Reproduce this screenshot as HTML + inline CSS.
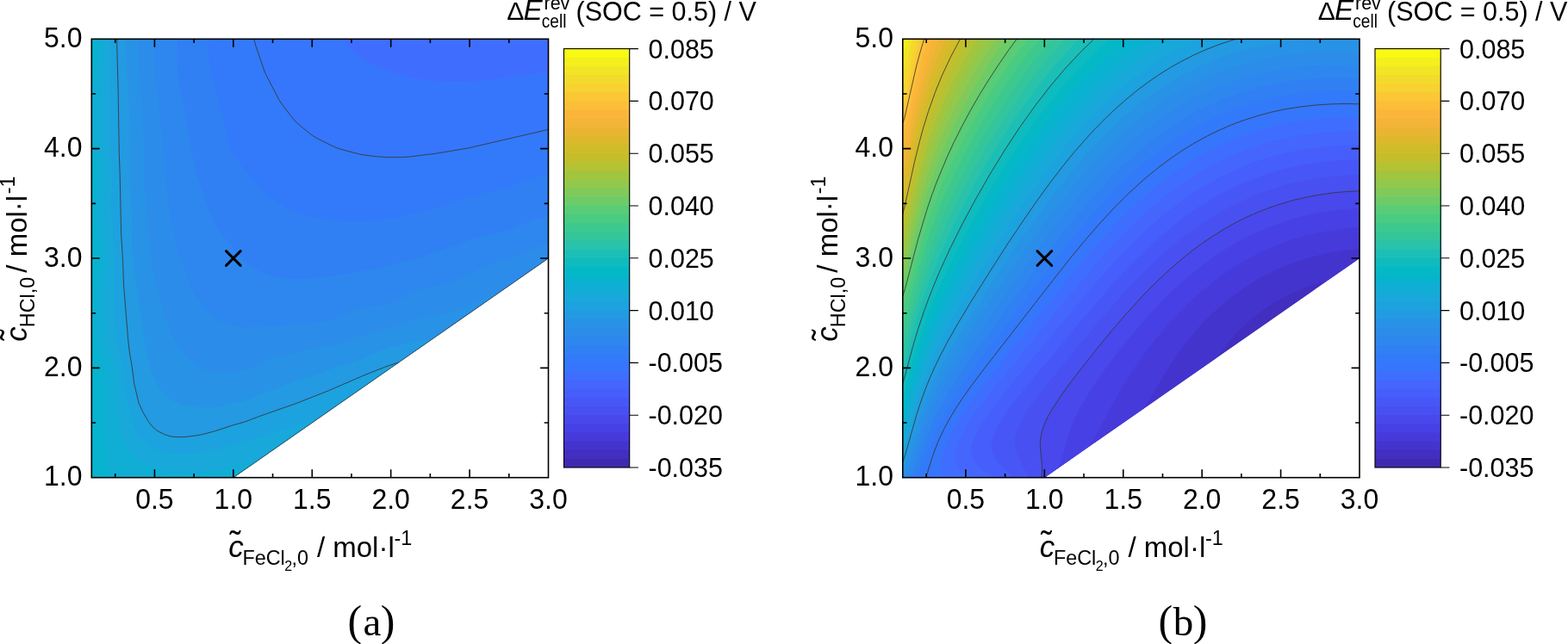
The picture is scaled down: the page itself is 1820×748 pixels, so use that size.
<!DOCTYPE html><html><head><meta charset="utf-8"><style>html,body{margin:0;padding:0;background:#fff;overflow:hidden}svg{display:block} text{font-family:'Liberation Sans', Arial, sans-serif;fill:#000}.t{font-size:32px}.tk{font-size:33.5px}.t2{font-size:33px}.c{font-size:30.5px}.s{font-size:23.4px}.ti{font-size:30.5px}.ts{font-size:21.5px}.cap{font-family:'Liberation Serif', 'Times New Roman', serif;font-size:47px}</style></head><body>
<svg width="1820" height="748" viewBox="0 0 1820 748">
<clipPath id="clipa"><path d="M106.3 45.3H636.5V300L270.8 554.7H106.3Z"/></clipPath>
<g clip-path="url(#clipa)">
<rect x="105.3" y="44.3" width="532.2" height="511.4" fill="#3f6eff"/>
<path d="M106.3 43.3L392.8 43.3L401.1 52.2L411 60.9L420.9 67.9L432.7 74.7L444.6 80.2L456.9 84.8L471.1 88.7L486.2 91.8L500 93.6L513.9 94.7L531.7 95L547.5 94.5L575.2 92.1L622.7 85.3L638.5 83.6L638.5 556.7L104.3 556.7L104.3 43.3L106.3 43.3Z" fill="#3676fd" fill-rule="evenodd"/>
<path d="M106.3 43.3L294.2 43.3L296.3 51.2L305.6 78.8L309.6 88.7L325.4 118.3L329.9 124.6L341.7 139.7L346.1 144L359.5 155.1L363.5 158L369.4 161.4L391.2 171.9L399.1 174.4L418.9 179.6L442.6 182.4L466.4 182.6L476.3 182L504 178.5L545.5 171.6L638.5 150L638.5 556.7L104.3 556.7L104.3 43.3L106.3 43.3Z" fill="#327af9" fill-rule="evenodd"/>
<path d="M106.3 43.3L241.5 43.3L241.4 53.2L241.8 63L242.9 72.9L244.8 83.8L248.4 98.6L257.5 130.2L264.9 163.8L266.6 169.7L268.9 175.6L271.3 179.5L279.9 191.4L292.1 207.2L302.2 218.6L310.7 226.9L320 234L329.9 240L341.7 245.6L353.6 249.8L365.5 252.8L377.3 254.8L389.2 256.2L403.1 257L416.9 257.1L430.8 256.4L444.6 255.1L460.4 252.8L478.2 249.2L498 244L555.4 226L579.1 220.3L593 216.4L626.6 205.1L638.5 201.5L638.5 556.7L104.3 556.7L104.3 43.3L106.3 43.3Z" fill="#3080f4" fill-rule="evenodd"/>
<path d="M106.3 43.3L206.7 43.3L205.5 57.1L205.3 70.9L206.2 84.8L208.1 98.6L214.7 130.2L220.3 165.7L225.2 189.4L228.9 203.4L240.8 238.7L249.2 260.5L253.8 268.4L260.6 277.2L276.4 295.8L284.6 303.9L290.3 308.5L296.2 312.4L302.2 315.6L308.1 318.1L318 321.2L327.9 323.1L339.7 324L351.6 323.9L373.4 322.3L385.2 320.9L438.7 311.9L452.5 308.5L492.1 297.2L507.9 292L537.6 281.2L551.4 276.7L561.3 274L589 267.6L614.8 257.5L638.5 249.3L638.5 556.7L104.3 556.7L104.3 43.3L106.3 43.3Z" fill="#2e87ee" fill-rule="evenodd"/>
<path d="M106.3 43.3L181.2 43.3L179.7 57.1L179.3 67L179.6 78.8L180.5 90.7L188.1 155.9L190.1 177.6L191.9 205.2L193.4 221L198.6 254.6L203.8 280.3L207.8 296.1L213.1 312.1L221 331.1L228.3 345.4L234.9 355.2L242.3 363.2L250.7 369.9L258.6 374.3L266.5 377.3L274.1 379L282.4 379.9L292.3 380L329.9 378.1L353.6 375.3L377.3 373.4L383.3 372.5L391.2 369.8L411 360.6L418.9 357.9L426.8 356.4L444.6 354.6L452.5 352.9L458.5 350.3L478.2 340L490.1 335.2L496.3 333.6L515.8 330.6L523.7 328.5L533.6 324.3L555.4 313.1L565.3 308.6L602.9 295.8L630.6 285.3L638.5 282.9L638.5 556.7L104.3 556.7L104.3 43.3L106.3 43.3Z" fill="#2c8cea" fill-rule="evenodd"/>
<path d="M106.3 43.3L161.5 43.3L160.5 55.1L160.6 69L166.4 151.9L167.4 175.6L167.4 197.3L168 215.1L169.1 228.9L172.2 256.6L173.8 280.3L176.6 307.9L178.5 317.8L186 349.4L189.4 361.3L193.3 372.9L199.3 387.1L205.1 398.7L211.1 408.3L217.1 415.1L223.2 420.5L230.9 425.5L236.9 428.4L244.8 431L252.7 432.5L260.6 433L268.5 432.7L278.4 431.2L284.3 429.6L292.3 426.9L315.9 416.5L321.9 414.3L347.7 408.3L369.4 402.8L387.2 400.4L399.1 398L412.9 393.7L428.8 387.1L460.4 379L466.2 377L474.3 373.4L480.2 371.5L492.1 368.7L515.8 364.9L523.7 362.8L539.6 357L569.3 343.1L589 335L616.7 325.5L638.5 319.3L638.5 556.7L104.3 556.7L104.3 43.3L106.3 43.3Z" fill="#2892e6" fill-rule="evenodd"/>
<path d="M106.3 43.3L146.8 43.3L146.3 49.2L146.3 57.1L149.4 114.4L150.5 146L150.8 171.7L150.6 203.2L154 256.6L153.8 288.2L155 307.9L167.6 395.6L171 412.6L175.5 430.3L178.4 438.2L184.3 450.1L187.4 454.3L191.4 458.6L195.3 462.1L201.2 465.8L209.2 468.9L217.1 470.9L228.9 472.4L240.8 473L250.7 472.5L260.6 470.7L278.4 466.5L286.9 463.9L319.3 452L343.7 442L369.4 433.9L393.2 425L418.9 417L440.6 407.8L452.5 403.6L464.4 400.5L484.2 396.3L519.8 390.7L535.6 387.4L553.4 382.4L589 370.7L604.9 365.9L622.7 361.3L638.5 358L638.5 556.7L104.3 556.7L104.3 43.3L106.3 43.3Z" fill="#239ae2" fill-rule="evenodd"/>
<path d="M106.3 43.3L135.9 43.3L135.7 51.2L140.6 270.4L142.6 303.9L143.6 331.6L148.7 394.8L150.5 410.6L153.3 426.4L155.7 445.6L161 467.8L163.7 474.2L169.6 485.4L173.6 491.5L178.9 497.5L183.4 500.9L189.4 504L195.3 506.2L201.2 507.3L209.2 507.7L217.1 507.3L234.9 504.6L250.7 500.4L268.5 494.4L284.3 489.9L300.2 483.9L343.7 468.6L381.3 453.8L421.9 436.2L446.6 426.4L460.4 421.6L466.4 420.4L476.3 419.1L519.8 415.5L541.6 412.9L561.3 409.8L610.8 400.5L638.5 396.7L638.5 556.7L104.3 556.7L104.3 43.3L106.3 43.3Z" fill="#1ca2de" fill-rule="evenodd"/>
<path d="M106.3 43.3L127.6 43.3L127.7 69L126.7 118.3L126.8 144L128 171.7L130.8 199.3L129.4 232.9L129.8 260.5L130.9 274.3L134.3 300L134.2 305.9L132.7 325.7L132.4 339.5L132.7 359.2L133.8 377L135.2 390.8L137.2 402.7L144.1 430.3L144.8 450.1L145.9 458L147.5 465.9L152.1 483.6L155.9 495.5L158.6 501.4L160.8 505.4L165.7 511.3L171.6 516.1L177.5 519.7L187.4 523.8L195.3 525.9L203.2 526.9L211.1 527.1L225 526.7L236.9 525.4L246.8 523.3L288.3 512.2L351.6 491.7L369.4 485.1L383.3 479.5L420.9 461.6L436.7 454.7L450.5 449.6L464.4 445.7L474.3 444L488.1 442.7L541.6 440.7L608.8 436.2L638.5 435.2L638.5 556.7L104.3 556.7L104.3 43.3L106.3 43.3Z" fill="#18a8da" fill-rule="evenodd"/>
<path d="M106.3 43.3L120.3 43.3L120.4 61.1L117.3 104.5L116.5 136.1L116.9 151.9L117.8 165.7L119.1 177.6L122.2 199.3L122 205.2L119.8 232.9L119.6 244.7L120 256.6L121.4 272.4L125.2 294.1L125.9 300L125.6 305.9L122.5 329.6L121.4 345.4L121.2 365.2L122.4 382.9L124 394.8L126 404.7L133.4 430.3L133.8 434.3L133.6 450.1L134.2 459.9L140.7 501.4L143.7 511.3L147.3 519.2L151 525.1L155.7 530.4L163.7 536.4L169.6 539.7L179.5 543.4L191.4 546.5L203.2 548.2L217.1 548.9L228.9 548.7L240.8 547.7L260.6 544.3L288.3 538L316 530.5L345.7 521.6L367.4 514.4L385.2 507.7L428.8 488.7L442.6 483.2L456.5 478.6L470.3 475.2L480.2 473.6L490.1 472.6L513.9 471.6L575.2 472L616.7 473.4L638.5 475L638.5 556.7L104.3 556.7L104.3 43.3L106.3 43.3Z" fill="#10add4" fill-rule="evenodd"/>
<path d="M106.3 43.3L112.6 43.3L113.1 51.2L112.6 63L109.4 88.7L107.9 104.5L106.7 132.2L106.9 146L107.6 159.8L109 173.6L111.6 193.4L112.1 201.3L110.1 236.8L110.4 256.6L111.7 270.4L115.1 292.1L115.9 300L115.5 307.9L112.1 331.6L110.7 345.4L109.9 361.2L110.2 375L111.1 386.9L112.4 396.8L114.3 406.6L118.9 426.4L120.3 436.2L121.5 505.4L122.2 521.2L123.3 533L124.7 540.9L126.4 546.8L129.2 552.8L132.5 556.7L104.3 556.7L104.3 43.3L106.3 43.3ZM511.9 507.3L541.6 507.7L575.2 509.9L608.8 513.5L638.5 518.2L638.5 556.7L332.4 556.7L355.6 549.9L375.4 543.5L434.7 522L456.5 515.1L470.3 511.8L484.2 509.4L498 508L511.9 507.3Z" fill="#07b3ce" fill-rule="evenodd"/>
<path d="M104.3 51.2L104.3 55.4L104.3 51.2ZM104.4 292.1L104.8 302L104.3 310.1L104.4 292.1ZM104.5 428.4L105.2 436.2L105.5 446.1L104.3 471.4L104.5 428.4ZM496 550.7L517.8 549.8L541.6 550.5L567.3 552.9L592.6 556.7L457.5 556.7L476.3 553.1L496 550.7Z" fill="#05b8c6" fill-rule="evenodd"/>
<path d="M294.2 43.3L296.9 53.2L306.1 80.4L308.6 86.7L324.2 116.4L328.2 122.3L337.8 134.9L341.7 139.7L345.7 143.6L358 153.9L363.5 158L369.4 161.4L385.2 169.2L390.7 171.7L395.1 173.2L418.8 179.5L436.7 181.8L448.6 182.6L466.4 182.6L474.3 182.2L505.9 178.3L543.5 172L638.5 150M135.9 43.3L135.7 51.2L137.1 104.5L138.3 177.6L139.1 199.3L140.6 270.4L142.6 303.9L143.6 331.6L148.7 394.8L150.5 410.6L153.3 426.4L155.7 445.6L161 467.8L165.6 478.2L171.6 488.6L176.9 495.5L181.5 499.6L185.4 502L191.4 504.8L197.3 506.7L201.2 507.3L209.2 507.7L217.1 507.3L227 506L234.9 504.6L250.7 500.4L268.5 494.4L284.3 489.9L300.2 483.9L343.7 468.6L381.3 453.8L421.9 436.2L446.6 426.4L460.4 421.6L466.4 420.4L476.3 419.1L519.8 415.5L541.6 412.9L561.3 409.8L610.8 400.5L624.7 398.3L638.5 396.7" fill="none" stroke="#363636" stroke-width="0.85"/>
</g>
<path d="M270.8 554.7L636.5 300" stroke="#3c3c3c" stroke-width="0.8"/>
<path d="M133.72 554.7V549.9M133.72 45.3V50.1M179.43 554.7V545.3M179.43 45.3V54.7M225.14 554.7V549.9M225.14 45.3V50.1M270.84 554.7V545.3M270.84 45.3V54.7M316.55 554.7V549.9M316.55 45.3V50.1M362.26 554.7V545.3M362.26 45.3V54.7M407.97 554.7V549.9M407.97 45.3V50.1M453.67 554.7V545.3M453.67 45.3V54.7M499.38 554.7V549.9M499.38 45.3V50.1M545.09 554.7V545.3M545.09 45.3V54.7M590.79 554.7V549.9M590.79 45.3V50.1M106.3 491.03H111.1M636.5 491.03H631.7M106.3 427.35H115.7M636.5 427.35H627.1M106.3 363.68H111.1M636.5 363.68H631.7M106.3 300H115.7M636.5 300H627.1M106.3 236.33H111.1M636.5 236.33H631.7M106.3 172.65H115.7M636.5 172.65H627.1M106.3 108.98H111.1M636.5 108.98H631.7" stroke="#000" stroke-width="1.6" fill="none"/>
<rect x="106.3" y="45.3" width="530.2" height="509.4" fill="none" stroke="#000" stroke-width="1.6"/>
<text transform="translate(95.5 564.4) scale(0.955 1)" text-anchor="end" class="tk">1.0</text>
<text transform="translate(95.5 437.05) scale(0.955 1)" text-anchor="end" class="tk">2.0</text>
<text transform="translate(95.5 309.7) scale(0.955 1)" text-anchor="end" class="tk">3.0</text>
<text transform="translate(95.5 182.35) scale(0.955 1)" text-anchor="end" class="tk">4.0</text>
<text transform="translate(95.5 55) scale(0.955 1)" text-anchor="end" class="tk">5.0</text>
<text transform="translate(179.43 591) scale(0.955 1)" text-anchor="middle" class="tk">0.5</text>
<text transform="translate(270.84 591) scale(0.955 1)" text-anchor="middle" class="tk">1.0</text>
<text transform="translate(362.26 591) scale(0.955 1)" text-anchor="middle" class="tk">1.5</text>
<text transform="translate(453.67 591) scale(0.955 1)" text-anchor="middle" class="tk">2.0</text>
<text transform="translate(545.09 591) scale(0.955 1)" text-anchor="middle" class="tk">2.5</text>
<text transform="translate(636.5 591) scale(0.955 1)" text-anchor="middle" class="tk">3.0</text>
<path d="M262.49 291.65L279.19 308.35M262.49 308.35L279.19 291.65" stroke="#000" stroke-width="2.9" stroke-linecap="round"/>
<rect x="654.5" y="56.6" width="76.2" height="486.4" fill="#3f29b1"/><rect x="654.5" y="56.6" width="76.2" height="476.27" fill="#422ebf"/><rect x="654.5" y="56.6" width="76.2" height="466.13" fill="#4434ce"/><rect x="654.5" y="56.6" width="76.2" height="456" fill="#463adb"/><rect x="654.5" y="56.6" width="76.2" height="445.87" fill="#4741e5"/><rect x="654.5" y="56.6" width="76.2" height="435.73" fill="#4848ec"/><rect x="654.5" y="56.6" width="76.2" height="425.6" fill="#4850f2"/><rect x="654.5" y="56.6" width="76.2" height="415.47" fill="#4757f7"/><rect x="654.5" y="56.6" width="76.2" height="405.33" fill="#465efb"/><rect x="654.5" y="56.6" width="76.2" height="395.2" fill="#4466fd"/><rect x="654.5" y="56.6" width="76.2" height="385.07" fill="#3f6eff"/><rect x="654.5" y="56.6" width="76.2" height="374.93" fill="#3676fd"/><rect x="654.5" y="56.6" width="76.2" height="364.8" fill="#327af9"/><rect x="654.5" y="56.6" width="76.2" height="354.67" fill="#3080f4"/><rect x="654.5" y="56.6" width="76.2" height="344.53" fill="#2e87ee"/><rect x="654.5" y="56.6" width="76.2" height="334.4" fill="#2c8cea"/><rect x="654.5" y="56.6" width="76.2" height="324.27" fill="#2892e6"/><rect x="654.5" y="56.6" width="76.2" height="314.13" fill="#239ae2"/><rect x="654.5" y="56.6" width="76.2" height="304" fill="#1ca2de"/><rect x="654.5" y="56.6" width="76.2" height="293.87" fill="#18a8da"/><rect x="654.5" y="56.6" width="76.2" height="283.73" fill="#10add4"/><rect x="654.5" y="56.6" width="76.2" height="273.6" fill="#07b3ce"/><rect x="654.5" y="56.6" width="76.2" height="263.47" fill="#05b8c6"/><rect x="654.5" y="56.6" width="76.2" height="253.33" fill="#0ebbbf"/><rect x="654.5" y="56.6" width="76.2" height="243.2" fill="#1cbfb6"/><rect x="654.5" y="56.6" width="76.2" height="233.07" fill="#2ac2a9"/><rect x="654.5" y="56.6" width="76.2" height="222.93" fill="#34c59b"/><rect x="654.5" y="56.6" width="76.2" height="212.8" fill="#3dc88e"/><rect x="654.5" y="56.6" width="76.2" height="202.67" fill="#49cb82"/><rect x="654.5" y="56.6" width="76.2" height="192.53" fill="#58cc76"/><rect x="654.5" y="56.6" width="76.2" height="182.4" fill="#6bcc68"/><rect x="654.5" y="56.6" width="76.2" height="172.27" fill="#7fca5a"/><rect x="654.5" y="56.6" width="76.2" height="162.13" fill="#92c84b"/><rect x="654.5" y="56.6" width="76.2" height="152" fill="#a2c53f"/><rect x="654.5" y="56.6" width="76.2" height="141.87" fill="#b4c234"/><rect x="654.5" y="56.6" width="76.2" height="131.73" fill="#c4be2c"/><rect x="654.5" y="56.6" width="76.2" height="121.6" fill="#d0bc29"/><rect x="654.5" y="56.6" width="76.2" height="111.47" fill="#dcb92c"/><rect x="654.5" y="56.6" width="76.2" height="101.33" fill="#e9b532"/><rect x="654.5" y="56.6" width="76.2" height="91.2" fill="#f4b438"/><rect x="654.5" y="56.6" width="76.2" height="81.07" fill="#fbb63a"/><rect x="654.5" y="56.6" width="76.2" height="70.93" fill="#fcbe39"/><rect x="654.5" y="56.6" width="76.2" height="60.8" fill="#fbc735"/><rect x="654.5" y="56.6" width="76.2" height="50.67" fill="#f7d231"/><rect x="654.5" y="56.6" width="76.2" height="40.53" fill="#f3db2c"/><rect x="654.5" y="56.6" width="76.2" height="30.4" fill="#f2e525"/><rect x="654.5" y="56.6" width="76.2" height="20.27" fill="#f4f01b"/><rect x="654.5" y="56.6" width="76.2" height="10.13" fill="#f8fa14"/>
<rect x="654.5" y="56.6" width="76.2" height="486.4" fill="none" stroke="#000" stroke-width="1.1"/>
<text x="752.5" y="554" class="c">-0.035</text>
<text x="752.5" y="493.2" class="c">-0.020</text>
<text x="752.5" y="432.4" class="c">-0.005</text>
<text x="752.5" y="371.6" class="c">0.010</text>
<text x="752.5" y="310.8" class="c">0.025</text>
<text x="752.5" y="250" class="c">0.040</text>
<text x="752.5" y="189.2" class="c">0.055</text>
<text x="752.5" y="128.4" class="c">0.070</text>
<text x="752.5" y="67.6" class="c">0.085</text>
<path d="M730.7 543H740.9M730.7 482.2H740.9M730.7 421.4H740.9M730.7 360.6H740.9M730.7 299.8H740.9M730.7 239H740.9M730.7 178.2H740.9M730.7 117.4H740.9M730.7 56.6H740.9" stroke="#000" stroke-width="1.1"/>
<text x="588.2" y="22.9" style="font-size:30.3px">Δ</text>
<text x="607.6" y="22.8" style="font-size:33.2px;font-style:italic">E</text>
<text x="631.5" y="10.9" class="ts">rev</text>
<text x="628.8" y="32.1" class="ts" textLength="28.6" lengthAdjust="spacingAndGlyphs">cell</text>
<text x="668.5" y="23.5" class="ti">(SOC = 0.5) / V</text>
<text x="265.2" y="646.9" style="font-size:35px;font-style:italic">c</text>
<text x="266.8" y="644.3" style="font-size:38px">˜</text>
<text x="281.4" y="655.9" class="s">FeCl</text>
<text x="330.2" y="662.5" style="font-size:16px">2</text>
<text x="338.6" y="655.9" class="s">,0</text>
<text x="367.9" y="647.1" class="t2">/ mol·l</text>
<text x="457.5" y="632.9" class="s">-1</text>
<g transform="translate(30.8 395.7) rotate(-90)"><text x="-1.1" y="0" style="font-size:35px;font-style:italic">c</text><text x="0.5" y="-2.6" style="font-size:38px">˜</text><text x="15.5" y="9" class="s">HCl,0</text><text x="79" y="0" class="t2">/ mol·l</text><text x="170.5" y="-14.2" class="s">-1</text></g>
<clipPath id="clipb"><path d="M1047.8 45.3H1578V300L1212.3 554.7H1047.8Z"/></clipPath>
<g clip-path="url(#clipb)">
<rect x="1046.8" y="44.3" width="532.2" height="511.4" fill="#3f29b1"/>
<path d="M1047.8 43.3L1580 43.3L1580 363.2L1564.2 366.2L1547.6 371.1L1532.5 377.3L1518.4 384.9L1506.8 392.8L1496.9 400.8L1485 412L1462.2 436.2L1450 448.1L1436.1 459.9L1420 471.8L1401.6 483.6L1377.5 497.5L1297.1 539.7L1266.5 556.7L1045.8 556.7L1045.8 43.3L1047.8 43.3Z" fill="#422ebf" fill-rule="evenodd"/>
<path d="M1047.8 43.3L1580 43.3L1580 319.5L1564.2 321.3L1548.3 324.2L1534.4 327.6L1518.7 332.7L1504.8 338.2L1489.9 345.4L1477.1 352.8L1464.7 361.2L1454.5 369.1L1445.5 377L1435.6 386.8L1427.7 395.7L1420.5 404.7L1413.4 414.5L1393 446.1L1384.7 458L1375 469.8L1363.3 481.7L1349.5 493.5L1331 507.3L1313.5 519.2L1256.1 556.7L1045.8 556.7L1045.8 43.3L1047.8 43.3Z" fill="#4434ce" fill-rule="evenodd"/>
<path d="M1047.8 43.3L1580 43.3L1580 288.9L1558.2 291.1L1538.5 294.5L1518.7 299.4L1498.9 306L1480.3 313.8L1461.2 323.7L1442.3 335.5L1425.7 347.8L1412.3 359.2L1399.9 371.1L1387.1 384.9L1375.8 398.7L1365.7 412.6L1356.6 426.4L1334.5 463.9L1327.1 475.7L1318.7 487.6L1310.6 497.5L1299.6 509.3L1287.1 521.2L1271.3 535L1245.2 556.7L1045.8 556.7L1045.8 43.3L1047.8 43.3Z" fill="#463adb" fill-rule="evenodd"/>
<path d="M1047.8 43.3L1580 43.3L1580 263.8L1568.1 264.6L1554.3 266.1L1530.5 270.1L1518.7 272.8L1506.8 276L1494.9 279.8L1483.1 284.2L1471.2 289.2L1460.8 294.1L1449.4 300L1437.5 306.9L1426.7 313.8L1415.8 321.5L1396 337.1L1378.1 353.3L1360.8 371.1L1343.7 390.8L1328.4 410.6L1314.6 430.3L1302.2 450.1L1292.1 467.8L1274.3 501.4L1264.8 517.2L1258.1 527.1L1250.7 537L1233.8 556.7L1045.8 556.7L1045.8 43.3L1047.8 43.3Z" fill="#4741e5" fill-rule="evenodd"/>
<path d="M1047.8 43.3L1580 43.3L1580 241.8L1564.2 242.7L1550.3 244.1L1536.5 246.1L1522.8 248.7L1508.8 252L1496.9 255.3L1483.1 259.9L1471 264.5L1457.3 270.4L1445.5 276.2L1433.6 282.6L1421.7 289.7L1409.8 297.5L1398 306.1L1386.1 315.4L1374.2 325.4L1361 337.5L1347.1 351.3L1334.1 365.2L1320.3 381L1307.2 396.8L1293.2 414.5L1280.1 432.3L1267.8 450.1L1255.6 469.8L1250.3 479.7L1246.6 487.6L1240.6 503.4L1234.1 527.1L1230.9 537L1226.8 546.8L1221.5 556.7L1045.8 556.7L1045.8 43.3L1047.8 43.3Z" fill="#4848ec" fill-rule="evenodd"/>
<path d="M1047.8 43.3L1580 43.3L1580 221.7L1564.2 222.4L1548.3 223.8L1532.5 226L1518.7 228.5L1502.8 232.1L1489 236L1475.1 240.6L1461.3 245.9L1447.4 252L1434.3 258.5L1421.7 265.5L1407.9 274.1L1395.8 282.2L1382.1 292.4L1370.3 302L1356.7 313.8L1340.6 329L1324.8 345.2L1308.4 363.2L1291.3 382.9L1270.3 408.6L1248.6 436.2L1232.5 458L1222.1 473.8L1216.4 483.6L1212.7 491.5L1209.9 499.4L1208.1 507.3L1207.4 513.3L1207.4 519.2L1209.4 538.9L1209.6 544.9L1209.3 550.8L1208.4 556.7L1045.8 556.7L1045.8 43.3L1047.8 43.3Z" fill="#4850f2" fill-rule="evenodd"/>
<path d="M1047.8 43.3L1580 43.3L1580 203L1562.2 203.6L1546.4 204.9L1530.5 206.9L1514.7 209.6L1499 213.1L1485 216.9L1469.2 222.1L1455.4 227.4L1441.5 233.4L1427.7 240.2L1413.8 247.9L1399.8 256.6L1386.1 265.9L1372.3 276.2L1358.4 287.6L1344.6 299.8L1327.9 315.8L1310.9 333.3L1293.1 353L1273.3 375.9L1239.6 416.5L1212.6 450.1L1197.7 469.8L1187.4 485.6L1182.3 495.5L1179.4 503.4L1177.9 511.3L1177.9 517.2L1178.5 521.2L1180.4 527.1L1183.1 533L1190.4 546.8L1192.2 551.1L1193.9 556.7L1045.8 556.7L1045.8 43.3L1047.8 43.3Z" fill="#4757f7" fill-rule="evenodd"/>
<path d="M1047.8 43.3L1580 43.3L1580 185.3L1562.2 185.7L1546.4 186.8L1528.6 188.8L1512.7 191.4L1496.9 194.7L1481.1 198.9L1465.2 203.9L1449.4 209.9L1433.6 216.8L1419.7 223.7L1405.9 231.5L1392 240.1L1378.2 249.6L1364.3 260.1L1350.5 271.4L1336.6 283.7L1320.8 298.9L1304.4 315.8L1287.2 334.7L1267.4 357.5L1185.5 456L1170.4 475.7L1159.9 491.5L1154.9 501.4L1152.1 509.3L1150.8 517.2L1151 521.2L1151.8 525.1L1154.4 531L1157.1 535L1162.4 540.9L1172.4 550.8L1177.5 556.7L1045.8 556.7L1045.8 43.3L1047.8 43.3Z" fill="#465efb" fill-rule="evenodd"/>
<path d="M1047.8 43.3L1580 43.3L1580 168.4L1564.2 168.5L1550.3 169.2L1536.5 170.4L1522.6 172L1508.8 174.3L1494.9 177.1L1481.1 180.5L1469.2 184L1455.4 188.6L1443.5 193.2L1429.6 199.2L1417.8 205L1405.9 211.4L1394 218.4L1382.1 226.1L1370.3 234.4L1349.5 250.6L1329.3 268.4L1308.9 288.2L1287.2 311.4L1255.5 348L1172.4 448.2L1154.6 470.5L1142.4 487.6L1135.3 499.4L1130 511.3L1128.3 517.2L1127.7 521.2L1127.5 525.1L1128 529.1L1130.3 535L1132.9 538.6L1135.1 540.9L1142.7 546.8L1158.1 556.7L1045.8 556.7L1045.8 43.3L1047.8 43.3Z" fill="#4466fd" fill-rule="evenodd"/>
<path d="M1047.8 43.3L1580 43.3L1580 152.1L1564.2 152.1L1548.3 152.7L1532.5 153.9L1518.7 155.5L1502.8 158.1L1489 160.9L1475.1 164.4L1461.3 168.5L1447.4 173.3L1433.6 178.8L1419.7 185.1L1407.9 191.1L1394 198.9L1382.1 206.3L1370.3 214.3L1358.4 223L1338.6 239L1318.8 256.9L1299.1 276.7L1277.3 300.5L1247.6 335.4L1158.6 444.3L1140.8 466.8L1128.7 483.6L1119 499.3L1113.1 511.3L1110.8 517.2L1109.1 523.1L1108.1 529.1L1108 533L1108.5 537L1109.9 540.9L1112.6 544.9L1114.6 546.8L1120.4 550.8L1133.2 556.7L1045.8 556.7L1045.8 43.3L1047.8 43.3Z" fill="#3f6eff" fill-rule="evenodd"/>
<path d="M1047.8 43.3L1580 43.3L1580 136.3L1562.2 136.1L1546.4 136.6L1530.5 137.7L1514.7 139.5L1498.9 142L1485 144.8L1469.2 148.8L1455.4 152.9L1441.5 157.8L1427.7 163.3L1413.8 169.7L1400 176.8L1386.1 184.8L1374.2 192.3L1361.2 201.3L1348.5 210.8L1328.7 227.3L1308.9 245.8L1289.2 266.1L1269.4 288.2L1251.6 309.3L1231.8 333.7L1146.7 440.3L1126.9 466.3L1115 483.7L1105.8 499.4L1099.2 513.3L1094.1 527.1L1092.6 533L1091.7 538.9L1091.5 542.9L1091.9 546.8L1093.3 550.8L1094.6 552.8L1096.6 554.7L1099.7 556.7L1045.8 556.7L1045.8 43.3L1047.8 43.3Z" fill="#3676fd" fill-rule="evenodd"/>
<path d="M1047.8 43.3L1580 43.3L1580 120.9L1562.2 120.5L1546.4 120.8L1528.6 121.9L1512.7 123.6L1496.9 125.9L1481.1 129L1465.2 133L1449.4 137.7L1433.6 143.4L1419.7 149.1L1405.9 155.6L1392 162.9L1378.2 171.1L1364.3 180.1L1351.4 189.4L1338.6 199.4L1320.3 215.1L1301 233.4L1283.2 252L1263.4 274.4L1247.6 293.4L1227.8 318.2L1130.9 443.4L1119 459.9L1111.1 471.8L1103.2 484.6L1095.3 499.3L1089.3 512.1L1084.9 523.1L1074.1 556.7L1045.8 556.7L1045.8 43.3L1047.8 43.3Z" fill="#327af9" fill-rule="evenodd"/>
<path d="M1047.8 43.3L1580 43.3L1580 105.8L1562.2 105.3L1544.4 105.5L1526.6 106.4L1508.8 108.2L1492.9 110.5L1477.1 113.6L1461.3 117.5L1445.5 122.2L1429.6 127.8L1415.8 133.5L1400 141L1386.1 148.4L1370.3 157.8L1356.4 167.1L1342.6 177.3L1328.7 188.4L1316.3 199.3L1303 211.8L1289.9 225L1277.3 238.4L1251.6 268.3L1221.9 305.8L1136.8 418.8L1121 440.7L1109.1 458.3L1099.2 474.6L1089.3 493.4L1081.4 511.2L1068.5 544.9L1065.6 550.8L1063.2 554.7L1061.6 556.7L1045.8 556.7L1045.8 43.3L1047.8 43.3Z" fill="#3080f4" fill-rule="evenodd"/>
<path d="M1047.8 43.3L1580 43.3L1580 91.1L1560.2 90.3L1542.4 90.4L1524.6 91.2L1506.8 92.8L1489 95.4L1473.2 98.4L1455.4 102.8L1439.5 107.6L1423.7 113.3L1407.9 120L1392 127.6L1376.7 136.1L1362.4 145L1346.6 155.9L1332.7 166.5L1318.8 178.1L1301 194.4L1283.2 212.4L1265.4 232L1247.6 253.2L1229.8 275.6L1210 301.8L1140.8 396.8L1124.9 419L1113.1 436.6L1103.2 452.2L1093.3 469.6L1087.3 481.2L1081.4 494.2L1075.5 508.8L1064.3 538.9L1060.7 546.8L1058.4 550.8L1053.9 556.7L1045.8 556.7L1045.8 43.3L1047.8 43.3Z" fill="#2e87ee" fill-rule="evenodd"/>
<path d="M1047.8 43.3L1580 43.3L1580 76.6L1560.2 75.6L1540.4 75.5L1520.6 76.3L1502.8 77.9L1485 80.4L1467.2 83.9L1449.4 88.3L1433.6 93.2L1415.8 99.8L1400 106.7L1384.1 114.6L1368.3 123.7L1352.5 133.8L1338.6 143.7L1323.2 155.9L1308.9 168.2L1291.1 185.1L1273.3 203.7L1255.5 223.9L1235.7 248.3L1217.9 271.6L1196.2 301.4L1154.6 360.2L1126.9 400.1L1107.1 430.5L1099.2 443.7L1091.3 458.1L1083.4 474.3L1077.5 488L1071.5 503.5L1061.3 533L1057.2 542.9L1054.1 548.8L1050 554.7L1048.2 556.7L1045.8 556.7L1045.8 43.3L1047.8 43.3Z" fill="#2c8cea" fill-rule="evenodd"/>
<path d="M1047.8 43.3L1580 43.3L1580 62.3L1558.2 61L1538.5 60.8L1518.7 61.5L1500.9 63L1483.1 65.3L1465.2 68.7L1447.4 73L1429.6 78.4L1412.4 84.8L1396 91.9L1378.7 100.6L1362.4 110L1346.5 120.3L1330.7 131.8L1315.6 144L1301 156.9L1281.9 175.6L1263.4 195.5L1245.6 216.4L1225.8 241.6L1206.1 268.3L1182.3 302.1L1144.7 357.2L1119 396.1L1109.1 411.9L1099.2 428.7L1091.3 443.2L1083.4 459.4L1077.5 473L1071.5 488.4L1055.3 537L1050.7 546.8L1045.8 554L1045.8 43.3L1047.8 43.3Z" fill="#2892e6" fill-rule="evenodd"/>
<path d="M1047.8 43.3L1580 43.3L1580 48.2L1558.2 46.7L1538.5 46.2L1518.7 46.7L1498.9 48.2L1479.1 50.8L1461.3 54.1L1443.5 58.4L1425.7 63.8L1407.9 70.4L1392 77.2L1374.2 86.2L1358.4 95.3L1342.6 105.6L1326.7 117.2L1310.9 130L1295.1 144.1L1275.3 163.7L1257.5 183.2L1239.7 204.5L1219.9 230L1198.1 260.2L1174.4 294.9L1140.8 345.9L1117 383.3L1105.2 403L1095.3 420.7L1087.3 436.2L1079.4 453.5L1073.5 468.2L1067.6 485L1052.8 533L1048.8 542.9L1045.8 548.2L1045.8 43.3L1047.8 43.3Z" fill="#239ae2" fill-rule="evenodd"/>
<path d="M1047.8 43.3L1441.8 43.3L1427.7 47.4L1413.8 52.1L1400 57.5L1386.1 63.7L1372.3 70.7L1358.4 78.5L1345.2 86.7L1332.7 95.4L1320.5 104.5L1307 115.6L1295.1 126L1283.2 137.3L1270.8 149.9L1258.1 163.8L1245.6 178.2L1233.8 192.8L1219.9 210.8L1204.1 232.5L1188.3 255.3L1170.4 282L1148.7 315.8L1126.9 350.6L1111.1 377L1099.2 398L1085.4 425.4L1079.4 438.7L1073.5 453.4L1067.6 470.2L1063.6 482.7L1051.1 527.1L1048.5 535L1045.8 541.2L1045.8 43.3L1047.8 43.3Z" fill="#1ca2de" fill-rule="evenodd"/>
<path d="M1047.8 43.3L1395.8 43.3L1382.5 49.2L1370.3 55.3L1356.4 63L1344.6 70.4L1332.7 78.3L1320.8 87L1308.9 96.4L1297.1 106.5L1285.2 117.4L1274.2 128.2L1263.4 139.4L1251.6 152.6L1229.8 178.8L1206.1 210.5L1178.4 251L1144.7 304L1115 353.6L1103.2 374.8L1093.3 393.7L1085.4 410.2L1079.4 423.6L1069.5 449.4L1061.6 474.5L1050 519.2L1045.8 532.5L1045.8 43.3L1047.8 43.3Z" fill="#18a8da" fill-rule="evenodd"/>
<path d="M1047.8 43.3L1362.4 43.3L1350.5 50.1L1338.6 57.6L1326.7 65.7L1314.9 74.5L1292.9 92.7L1281.2 103.4L1270 114.4L1248.1 138.1L1226.8 163.8L1204.6 193.4L1182.3 225.8L1154.6 269.3L1126.9 315.7L1105.2 354.6L1095.3 373.8L1087.3 390.2L1075.5 418.1L1065.6 446.1L1057.7 473.8L1045.8 521.3L1045.8 43.3L1047.8 43.3Z" fill="#10add4" fill-rule="evenodd"/>
<path d="M1047.8 43.3L1335.2 43.3L1312.9 59.1L1291.1 76.9L1270.1 96.6L1249.4 118.3L1229.3 142L1208 169.7L1186.3 200.7L1164.5 234.3L1138.8 276.9L1115 319L1097.2 353.2L1083.4 383.1L1073.5 407.7L1063.6 437L1056.2 463.9L1045.8 507.1L1045.8 43.3L1047.8 43.3Z" fill="#07b3ce" fill-rule="evenodd"/>
<path d="M1047.8 43.3L1311.7 43.3L1291.1 59.8L1269.4 79.8L1249.6 100.2L1229.8 123L1210 148.2L1190.2 175.8L1170.4 205.8L1150.7 237.9L1128.9 275.6L1109.1 312.3L1093.3 344.4L1081.4 371.4L1071.5 397.2L1063.6 421.2L1056.6 446.1L1045.8 489.7L1045.8 43.3L1047.8 43.3Z" fill="#05b8c6" fill-rule="evenodd"/>
<path d="M1047.8 43.3L1290.8 43.3L1271.4 60.6L1253.1 78.8L1233.8 100.3L1215.8 122.3L1196.6 148L1178.4 174.5L1160 203.2L1140.8 235.6L1123 267.6L1107.1 298.1L1093.3 327L1081.4 354.6L1071.5 380.9L1063.6 405.1L1057.7 425.8L1047.8 463.9L1045.8 470.3L1045.8 43.3L1047.8 43.3Z" fill="#0ebbbf" fill-rule="evenodd"/>
<path d="M1047.8 43.3L1271.8 43.3L1253.5 61.1L1235.7 80.3L1218.6 100.6L1201.8 122.3L1184.3 146.8L1166.5 173.8L1148.7 202.9L1132.9 230.5L1117 260L1103.2 287.7L1091.3 313.6L1081.4 337.4L1073.5 358.5L1065.6 382.2L1059.6 402.2L1049.8 438.8L1045.8 450.7L1045.8 43.3L1047.8 43.3Z" fill="#1cbfb6" fill-rule="evenodd"/>
<path d="M1047.8 43.3L1254.3 43.3L1237.7 60.7L1221.9 78.8L1204.5 100.6L1188.5 122.3L1172.4 145.8L1156.6 170.6L1140.8 197.3L1126.9 222.1L1113.1 248.7L1101.2 273.3L1091.3 295.4L1081.4 319.7L1073.5 341.3L1067.6 359.1L1059.6 385.6L1049.8 421.4L1047.8 427.5L1045.8 431.8L1045.8 43.3L1047.8 43.3Z" fill="#2ac2a9" fill-rule="evenodd"/>
<path d="M1047.8 43.3L1238 43.3L1221.9 61.4L1206.1 80.7L1191 100.6L1176.4 121.3L1161.4 144L1146.7 168L1132.9 192.1L1119 217.9L1109.1 237.6L1099.2 258.7L1089.3 281.6L1081.4 301.6L1069.5 335.7L1061.6 361.8L1049.8 404.2L1047.8 410L1045.8 413.7L1045.8 43.3L1047.8 43.3Z" fill="#34c59b" fill-rule="evenodd"/>
<path d="M1047.8 43.3L1222.8 43.3L1208 60.8L1192.4 80.8L1178.4 100.3L1164.5 120.7L1150.7 142.6L1136.8 166L1124.9 187.4L1113.1 210.4L1103.2 231L1095.3 248.7L1087.3 267.7L1079.4 288.6L1067.6 324.4L1049.8 387.4L1047.8 392.9L1045.8 396.4L1045.8 43.3L1047.8 43.3Z" fill="#3dc88e" fill-rule="evenodd"/>
<path d="M1047.8 43.3L1208.3 43.3L1194.2 61L1180.3 79.6L1167.1 98.6L1154.6 117.7L1142.7 137L1130.9 157.6L1119 179.6L1109.1 199.3L1101.2 216.2L1093.3 234.3L1085.4 254L1079.4 270.1L1067.6 306.7L1049.8 370.8L1047.8 376.3L1045.8 379.7L1045.8 43.3L1047.8 43.3Z" fill="#49cb82" fill-rule="evenodd"/>
<path d="M1047.8 43.3L1194.7 43.3L1181.1 61.1L1168.5 78.8L1156.6 96.5L1144.7 115.4L1132.9 135.4L1123 153.2L1113.1 172.2L1103.2 192.7L1089.3 224.9L1077.5 257.2L1071.5 275.6L1065.6 295.7L1049.8 354.5L1047.8 360L1045.8 363.4L1045.8 43.3L1047.8 43.3Z" fill="#58cc76" fill-rule="evenodd"/>
<path d="M1047.8 43.3L1181.6 43.3L1170.4 58.6L1158.6 75.8L1146.7 94.1L1136.7 110.4L1126.9 127.4L1117 145.7L1107.1 165.4L1099.2 182.5L1087.3 211.1L1081.4 227.1L1075.5 244.6L1065.6 277.9L1050.5 335.5L1047.8 344L1045.8 347.5L1045.8 43.3L1047.8 43.3Z" fill="#6bcc68" fill-rule="evenodd"/>
<path d="M1047.8 43.3L1169.2 43.3L1158.2 59.1L1146.7 76.5L1127.4 108.5L1110.5 140.1L1103.2 155.1L1095.3 172.8L1083.4 202.9L1073.5 232.4L1063.6 267.5L1050.4 319.7L1047.8 328.1L1045.8 331.8L1045.8 43.3L1047.8 43.3Z" fill="#7fca5a" fill-rule="evenodd"/>
<path d="M1047.8 43.3L1157.4 43.3L1136.8 74.8L1119.6 104.5L1105.2 132.5L1097.2 149.7L1091.3 163.7L1081.4 189.8L1071.5 220.7L1063.6 249.7L1050.3 303.9L1047.8 312.2L1045.8 316.1L1045.8 43.3L1047.8 43.3Z" fill="#92c84b" fill-rule="evenodd"/>
<path d="M1047.8 43.3L1146 43.3L1128.9 70.6L1113.1 98.9L1099.2 127.1L1087.3 155.3L1079.4 177.2L1071.5 202.5L1063.6 232L1049.8 289.9L1047.8 296.4L1045.8 300.5L1045.8 43.3L1047.8 43.3Z" fill="#a2c53f" fill-rule="evenodd"/>
<path d="M1047.8 43.3L1135.3 43.3L1121 67.1L1107.1 92.9L1095.3 118.1L1085.4 142.4L1077.5 165L1069.5 191.5L1061.6 222.5L1049.8 273.8L1047.8 280.4L1045.8 284.7L1045.8 43.3L1047.8 43.3Z" fill="#b4c234" fill-rule="evenodd"/>
<path d="M1047.8 43.3L1125.1 43.3L1113.1 64.4L1101.2 87.7L1091.3 109.8L1081.4 135.5L1073.5 159.8L1067.6 181L1061.6 205L1049.8 257.5L1047.8 264.4L1045.8 268.8L1045.8 43.3L1047.8 43.3Z" fill="#c4be2c" fill-rule="evenodd"/>
<path d="M1047.8 43.3L1115.6 43.3L1103.2 66.7L1093.3 87.9L1085.4 107.3L1077.5 129.6L1071.5 149L1067.6 163.4L1061.6 187.6L1049.8 241.1L1047.8 248.2L1045.8 252.6L1045.8 43.3L1047.8 43.3Z" fill="#d0bc29" fill-rule="evenodd"/>
<path d="M1047.8 43.3L1106.7 43.3L1097.2 62.4L1089.3 80.3L1081.4 100.8L1075.5 118.4L1069.5 138.6L1063.6 161.8L1049.8 224.6L1047.8 231.7L1045.8 236.1L1045.8 43.3L1047.8 43.3Z" fill="#dcb92c" fill-rule="evenodd"/>
<path d="M1047.8 43.3L1098.6 43.3L1091.3 59.2L1085.4 73.5L1079.4 89.6L1073.5 107.8L1067.6 128.7L1063.6 144.5L1049.8 207.7L1047.8 214.9L1045.8 219.2L1045.8 43.3L1047.8 43.3Z" fill="#e9b532" fill-rule="evenodd"/>
<path d="M1047.8 43.3L1091.2 43.3L1080.9 69L1075.5 84.7L1071.2 98.6L1065.6 119.4L1061.6 135.8L1049.8 190.7L1047.8 197.8L1045.8 201.7L1045.8 43.3L1047.8 43.3Z" fill="#f4b438" fill-rule="evenodd"/>
<path d="M1047.8 43.3L1084.5 43.3L1076.6 65L1069.3 88.7L1061.6 118.8L1049.8 173.3L1047.8 180.1L1045.8 183.5L1045.8 43.3L1047.8 43.3Z" fill="#fbb63a" fill-rule="evenodd"/>
<path d="M1047.8 43.3L1078.6 43.3L1071.5 64.7L1065.6 85.8L1059.6 110.5L1049.8 155.5L1047.8 162L1045.8 164.4L1045.8 43.3L1047.8 43.3Z" fill="#fcbe39" fill-rule="evenodd"/>
<path d="M1047.8 43.3L1073.2 43.3L1067.6 62.1L1063.6 77.1L1049.8 137.3L1047.8 143.2L1045.8 144.3L1045.8 43.3L1047.8 43.3Z" fill="#fbc735" fill-rule="evenodd"/>
<path d="M1047.8 43.3L1068.4 43.3L1061.6 68.5L1051.7 111.3L1049.8 118.7L1047.8 123.6L1045.8 122.8L1045.8 43.3L1047.8 43.3Z" fill="#f7d231" fill-rule="evenodd"/>
<path d="M1047.8 43.3L1063.9 43.3L1051.7 92.9L1049.8 99.5L1047.8 103.1L1045.8 99.5L1045.8 98.6L1045.8 43.3L1047.8 43.3Z" fill="#f3db2c" fill-rule="evenodd"/>
<path d="M1047.8 43.3L1059.6 43.3L1051.7 74.1L1049.8 79.6L1047.8 81.4L1045.8 72.9L1045.8 43.3L1047.8 43.3Z" fill="#f2e525" fill-rule="evenodd"/>
<path d="M1047.8 43.3L1055.2 43.3L1051.7 54.9L1049.8 59.1L1047.8 58.4L1046.4 49.2L1045.8 43.3L1047.8 43.3Z" fill="#f4f01b" fill-rule="evenodd"/>
<path d="M1580 426.9L1566.2 431.1L1554.3 435.3L1540.4 440.7L1524.6 447.3L1446.7 481.7L1332.7 530.3L1303 543.7L1276.5 556.7M1580 221.7L1564.2 222.4L1548.3 223.8L1532.5 226L1518.7 228.5L1502.8 232.1L1489 236L1475.1 240.6L1461.3 245.9L1447.4 252L1434.3 258.5L1421.7 265.5L1407.9 274.1L1395.8 282.2L1382.1 292.4L1370.3 302L1356.7 313.8L1340.6 329L1324.8 345.2L1308.4 363.2L1291.3 382.9L1270.3 408.6L1248.6 436.2L1232.5 458L1222.1 473.8L1216.4 483.6L1212.7 491.5L1209.9 499.4L1208.1 507.3L1207.4 513.3L1207.4 519.2L1209.4 538.9L1209.6 544.9L1209.3 550.8L1208.4 556.7M1580 120.9L1562.2 120.5L1544.4 120.9L1526.6 122.1L1508.8 124.1L1492.9 126.6L1477.1 129.9L1461.3 134.1L1445.5 139L1429.6 144.9L1415.8 150.9L1401.5 157.8L1386.1 166.3L1371.1 175.6L1356.7 185.5L1342.6 196.2L1328.7 207.6L1310.9 223.8L1293.8 240.8L1275.6 260.5L1257.5 281.4L1241.7 300.7L1221.9 325.8L1144.7 425.2L1126.9 448.8L1117 462.8L1109.1 474.8L1101.2 488.1L1095.2 499.4L1089.3 512.1L1084.9 523.1L1081.4 533.3L1074.1 556.7M1441.8 43.3L1427.7 47.4L1413.8 52.1L1400 57.5L1386.1 63.7L1372.3 70.7L1358.4 78.5L1345.2 86.7L1332.7 95.4L1320.5 104.5L1307 115.6L1295.1 126L1283.2 137.3L1270.8 149.9L1258.1 163.8L1245.6 178.2L1233.8 192.8L1219.9 210.8L1204.1 232.5L1188.3 255.3L1170.4 282L1148.7 315.8L1126.9 350.6L1111.1 377L1099.2 398L1091.3 413.2L1085.4 425.4L1079.4 438.7L1073.5 453.4L1067.6 470.2L1063.6 482.7L1051.1 527.1L1048.5 535L1045.8 541.2M1271.8 43.3L1253.5 61.1L1235.7 80.3L1218.6 100.6L1201.8 122.3L1184.3 146.8L1166.5 173.8L1148.7 202.9L1132.9 230.5L1117 260L1103.2 287.7L1091.3 313.6L1081.4 337.4L1073.5 358.5L1065.6 382.2L1059.6 402.2L1049.8 438.8L1047.8 445.5L1045.8 450.7M1181.6 43.3L1170.4 58.6L1158.6 75.8L1146.7 94.1L1136.7 110.4L1126.9 127.4L1117 145.7L1107.1 165.4L1099.2 182.5L1087.3 211.1L1081.4 227.1L1075.5 244.6L1065.6 277.9L1050.5 335.5L1047.8 344L1045.8 347.5M1115.6 43.3L1103.2 66.7L1093.3 87.9L1085.4 107.3L1077.5 129.6L1071.5 149L1067.6 163.4L1061.6 187.6L1049.8 241.1L1047.8 248.2L1045.8 252.6M1073.2 43.3L1067.6 62.1L1063.6 77.1L1049.8 137.3L1047.8 143.2L1045.8 144.3" fill="none" stroke="#363636" stroke-width="0.85"/>
</g>
<path d="M1075.22 554.7V549.9M1075.22 45.3V50.1M1120.93 554.7V545.3M1120.93 45.3V54.7M1166.64 554.7V549.9M1166.64 45.3V50.1M1212.34 554.7V545.3M1212.34 45.3V54.7M1258.05 554.7V549.9M1258.05 45.3V50.1M1303.76 554.7V545.3M1303.76 45.3V54.7M1349.47 554.7V549.9M1349.47 45.3V50.1M1395.17 554.7V545.3M1395.17 45.3V54.7M1440.88 554.7V549.9M1440.88 45.3V50.1M1486.59 554.7V545.3M1486.59 45.3V54.7M1532.29 554.7V549.9M1532.29 45.3V50.1M1047.8 491.03H1052.6M1578 491.03H1573.2M1047.8 427.35H1057.2M1578 427.35H1568.6M1047.8 363.68H1052.6M1578 363.68H1573.2M1047.8 300H1057.2M1578 300H1568.6M1047.8 236.33H1052.6M1578 236.33H1573.2M1047.8 172.65H1057.2M1578 172.65H1568.6M1047.8 108.98H1052.6M1578 108.98H1573.2" stroke="#000" stroke-width="1.6" fill="none"/>
<rect x="1047.8" y="45.3" width="530.2" height="509.4" fill="none" stroke="#000" stroke-width="1.6"/>
<text transform="translate(1037 564.4) scale(0.955 1)" text-anchor="end" class="tk">1.0</text>
<text transform="translate(1037 437.05) scale(0.955 1)" text-anchor="end" class="tk">2.0</text>
<text transform="translate(1037 309.7) scale(0.955 1)" text-anchor="end" class="tk">3.0</text>
<text transform="translate(1037 182.35) scale(0.955 1)" text-anchor="end" class="tk">4.0</text>
<text transform="translate(1037 55) scale(0.955 1)" text-anchor="end" class="tk">5.0</text>
<text transform="translate(1120.93 591) scale(0.955 1)" text-anchor="middle" class="tk">0.5</text>
<text transform="translate(1212.34 591) scale(0.955 1)" text-anchor="middle" class="tk">1.0</text>
<text transform="translate(1303.76 591) scale(0.955 1)" text-anchor="middle" class="tk">1.5</text>
<text transform="translate(1395.17 591) scale(0.955 1)" text-anchor="middle" class="tk">2.0</text>
<text transform="translate(1486.59 591) scale(0.955 1)" text-anchor="middle" class="tk">2.5</text>
<text transform="translate(1578 591) scale(0.955 1)" text-anchor="middle" class="tk">3.0</text>
<path d="M1203.99 291.65L1220.69 308.35M1203.99 308.35L1220.69 291.65" stroke="#000" stroke-width="2.9" stroke-linecap="round"/>
<rect x="1596" y="56.6" width="76.2" height="486.4" fill="#3f29b1"/><rect x="1596" y="56.6" width="76.2" height="476.27" fill="#422ebf"/><rect x="1596" y="56.6" width="76.2" height="466.13" fill="#4434ce"/><rect x="1596" y="56.6" width="76.2" height="456" fill="#463adb"/><rect x="1596" y="56.6" width="76.2" height="445.87" fill="#4741e5"/><rect x="1596" y="56.6" width="76.2" height="435.73" fill="#4848ec"/><rect x="1596" y="56.6" width="76.2" height="425.6" fill="#4850f2"/><rect x="1596" y="56.6" width="76.2" height="415.47" fill="#4757f7"/><rect x="1596" y="56.6" width="76.2" height="405.33" fill="#465efb"/><rect x="1596" y="56.6" width="76.2" height="395.2" fill="#4466fd"/><rect x="1596" y="56.6" width="76.2" height="385.07" fill="#3f6eff"/><rect x="1596" y="56.6" width="76.2" height="374.93" fill="#3676fd"/><rect x="1596" y="56.6" width="76.2" height="364.8" fill="#327af9"/><rect x="1596" y="56.6" width="76.2" height="354.67" fill="#3080f4"/><rect x="1596" y="56.6" width="76.2" height="344.53" fill="#2e87ee"/><rect x="1596" y="56.6" width="76.2" height="334.4" fill="#2c8cea"/><rect x="1596" y="56.6" width="76.2" height="324.27" fill="#2892e6"/><rect x="1596" y="56.6" width="76.2" height="314.13" fill="#239ae2"/><rect x="1596" y="56.6" width="76.2" height="304" fill="#1ca2de"/><rect x="1596" y="56.6" width="76.2" height="293.87" fill="#18a8da"/><rect x="1596" y="56.6" width="76.2" height="283.73" fill="#10add4"/><rect x="1596" y="56.6" width="76.2" height="273.6" fill="#07b3ce"/><rect x="1596" y="56.6" width="76.2" height="263.47" fill="#05b8c6"/><rect x="1596" y="56.6" width="76.2" height="253.33" fill="#0ebbbf"/><rect x="1596" y="56.6" width="76.2" height="243.2" fill="#1cbfb6"/><rect x="1596" y="56.6" width="76.2" height="233.07" fill="#2ac2a9"/><rect x="1596" y="56.6" width="76.2" height="222.93" fill="#34c59b"/><rect x="1596" y="56.6" width="76.2" height="212.8" fill="#3dc88e"/><rect x="1596" y="56.6" width="76.2" height="202.67" fill="#49cb82"/><rect x="1596" y="56.6" width="76.2" height="192.53" fill="#58cc76"/><rect x="1596" y="56.6" width="76.2" height="182.4" fill="#6bcc68"/><rect x="1596" y="56.6" width="76.2" height="172.27" fill="#7fca5a"/><rect x="1596" y="56.6" width="76.2" height="162.13" fill="#92c84b"/><rect x="1596" y="56.6" width="76.2" height="152" fill="#a2c53f"/><rect x="1596" y="56.6" width="76.2" height="141.87" fill="#b4c234"/><rect x="1596" y="56.6" width="76.2" height="131.73" fill="#c4be2c"/><rect x="1596" y="56.6" width="76.2" height="121.6" fill="#d0bc29"/><rect x="1596" y="56.6" width="76.2" height="111.47" fill="#dcb92c"/><rect x="1596" y="56.6" width="76.2" height="101.33" fill="#e9b532"/><rect x="1596" y="56.6" width="76.2" height="91.2" fill="#f4b438"/><rect x="1596" y="56.6" width="76.2" height="81.07" fill="#fbb63a"/><rect x="1596" y="56.6" width="76.2" height="70.93" fill="#fcbe39"/><rect x="1596" y="56.6" width="76.2" height="60.8" fill="#fbc735"/><rect x="1596" y="56.6" width="76.2" height="50.67" fill="#f7d231"/><rect x="1596" y="56.6" width="76.2" height="40.53" fill="#f3db2c"/><rect x="1596" y="56.6" width="76.2" height="30.4" fill="#f2e525"/><rect x="1596" y="56.6" width="76.2" height="20.27" fill="#f4f01b"/><rect x="1596" y="56.6" width="76.2" height="10.13" fill="#f8fa14"/>
<rect x="1596" y="56.6" width="76.2" height="486.4" fill="none" stroke="#000" stroke-width="1.1"/>
<text x="1694" y="554" class="c">-0.035</text>
<text x="1694" y="493.2" class="c">-0.020</text>
<text x="1694" y="432.4" class="c">-0.005</text>
<text x="1694" y="371.6" class="c">0.010</text>
<text x="1694" y="310.8" class="c">0.025</text>
<text x="1694" y="250" class="c">0.040</text>
<text x="1694" y="189.2" class="c">0.055</text>
<text x="1694" y="128.4" class="c">0.070</text>
<text x="1694" y="67.6" class="c">0.085</text>
<path d="M1672.2 543H1682.4M1672.2 482.2H1682.4M1672.2 421.4H1682.4M1672.2 360.6H1682.4M1672.2 299.8H1682.4M1672.2 239H1682.4M1672.2 178.2H1682.4M1672.2 117.4H1682.4M1672.2 56.6H1682.4" stroke="#000" stroke-width="1.1"/>
<text x="1529.7" y="22.9" style="font-size:30.3px">Δ</text>
<text x="1549.1" y="22.8" style="font-size:33.2px;font-style:italic">E</text>
<text x="1573" y="10.9" class="ts">rev</text>
<text x="1570.3" y="32.1" class="ts" textLength="28.6" lengthAdjust="spacingAndGlyphs">cell</text>
<text x="1610" y="23.5" class="ti">(SOC = 0.5) / V</text>
<text x="1206.7" y="646.9" style="font-size:35px;font-style:italic">c</text>
<text x="1208.3" y="644.3" style="font-size:38px">˜</text>
<text x="1222.9" y="655.9" class="s">FeCl</text>
<text x="1271.7" y="662.5" style="font-size:16px">2</text>
<text x="1280.1" y="655.9" class="s">,0</text>
<text x="1309.4" y="647.1" class="t2">/ mol·l</text>
<text x="1399" y="632.9" class="s">-1</text>
<g transform="translate(972.3 395.7) rotate(-90)"><text x="-1.1" y="0" style="font-size:35px;font-style:italic">c</text><text x="0.5" y="-2.6" style="font-size:38px">˜</text><text x="15.5" y="9" class="s">HCl,0</text><text x="79" y="0" class="t2">/ mol·l</text><text x="170.5" y="-14.2" class="s">-1</text></g>
<text x="403.6" y="738" class="cap" style="font-size:50px">(</text>
<text x="432" y="738" class="cap" text-anchor="middle">a</text>
<text x="441.7" y="738" class="cap" style="font-size:50px">)</text>
<text x="1344.5" y="738" class="cap" style="font-size:50px">(</text>
<text x="1373.5" y="738" class="cap" text-anchor="middle">b</text>
<text x="1384.7" y="738" class="cap" style="font-size:50px">)</text>
</svg></body></html>
